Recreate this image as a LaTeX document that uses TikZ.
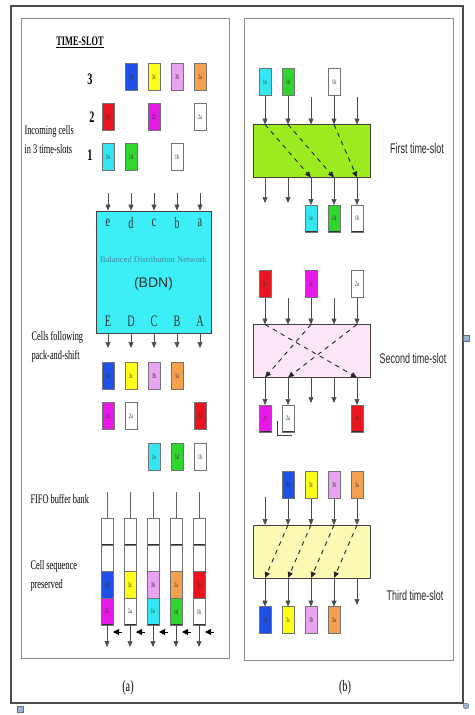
\documentclass[tikz,border=0pt]{standalone}
\usepackage{fontspec}
\setmainfont{Liberation Serif}
\setsansfont{Liberation Sans}
\newfontfamily\narrowserif[FakeStretch=0.64]{Liberation Serif}
\newfontfamily\narrowsans[FakeStretch=0.64]{Liberation Sans}
\usetikzlibrary{arrows.meta,positioning}

\definecolor{cellblue}{HTML}{1E4FE6}
\definecolor{cellyellow}{HTML}{FFFF1A}
\definecolor{cellviolet}{HTML}{E8A4F0}
\definecolor{cellorange}{HTML}{F5A04E}
\definecolor{cellred}{HTML}{E8141E}
\definecolor{cellmagenta}{HTML}{E619E6}
\definecolor{cellcyan}{HTML}{33E6F0}
\definecolor{cellgreen}{HTML}{2ED62E}
\definecolor{bdncyan}{HTML}{3CEEF5}
\definecolor{bdntext}{HTML}{3D8C9C}
\definecolor{slotgreen}{HTML}{9CEB1E}
\definecolor{slotpink}{HTML}{FCE6F6}
\definecolor{slotyellow}{HTML}{FAFAB4}
\definecolor{handle}{HTML}{9DB3D6}

\tikzset{
  every node/.style={
    font=\narrowserif\fontsize{13}{19}\selectfont
  },
  cell/.style={
    shape=rectangle,
    minimum width=12pt,
    minimum height=27pt,
    inner sep=0pt,
    outer sep=0pt,
    draw=black!55,
    fill=#1,
    text=black!80,
    font=\narrowserif\fontsize{7}{7}\selectfont,
    path picture={
      \draw[line width=1.4pt,black!80] (path picture bounding box.south west) -- (path picture bounding box.south east);
    }
  },
  cell/.default=white,
  buffer/.style={
    cell=#1,
    minimum height=26.75pt
  },
  buffer/.default=white,
  feed/.style={
    draw=black!70,
    line width=0.6pt,
    -{Triangle[length=6pt,width=5pt]}
  },
  shuffle/.style={
    draw=black!85,
    line width=0.9pt,
    dash pattern=on 4.5pt off 4.5pt,
    -{Triangle[length=6pt,width=5pt]}
  },
  push/.style={
    draw=black,
    line width=0.9pt,
    -{Triangle[length=6pt,width=6pt]}
  },
  network/.style={
    shape=rectangle,
    draw=black!75,
    line width=0.9pt,
    fill=#1,
    minimum width=117pt,
    minimum height=53pt,
    inner sep=0pt
  },
  bdnbox/.style={
    network=bdncyan,
    minimum width=115pt,
    minimum height=122pt
  },
  caption/.style={
    anchor=west,
    align=left
  },
  port/.style={
    font=\narrowserif\fontsize{16}{16}\selectfont,
    text=black!80
  },
  slotname/.style={
    font=\narrowsans\fontsize{14}{15}\selectfont,
    text=black!85
  },
  panel/.style={
    draw=black!45,
    line width=0.7pt
  },
  frame/.style={
    draw=black!70,
    line width=1.8pt
  },
  handle/.style={
    shape=rectangle,
    draw=handle!60!black,
    fill=handle,
    minimum size=6pt,
    inner sep=0pt
  }
}

\begin{document}
\begin{tikzpicture}[x=1pt,y=-1pt]
  \useasboundingbox (0,0) rectangle (474,715);
  \draw[frame] (11,6) rectangle (463,703);
  \draw[panel] (21,18) rectangle (229,658);
  \draw[panel] (244,18) rectangle (453,660);
  \node[handle] (hdl1) at (20,709) {};
  \node[handle] (hdl2) at (466,338) {};
  \node[handle,shape=circle] (hdl3) at (466,706) {};

  % (a) balanced distribution network
  \node[font=\narrowserif\bfseries\fontsize{13}{14}\selectfont] (timeslot) at (80,42) {\underline{TIME-SLOT}};
  \node[font=\narrowserif\bfseries\fontsize{16}{16}\selectfont] (row3) at (90,79) {3};
  \node[font=\narrowserif\bfseries\fontsize{16}{16}\selectfont] (row2) at (92,117) {2};
  \node[font=\narrowserif\bfseries\fontsize{16}{16}\selectfont] (row1) at (90,155) {1};
  \node[caption] (incoming) at (21,140) {Incoming cells\\in 3 time-slots};

  \node[cell=cellblue] (in3d) at (131,77) {3d};
  \node[cell=cellyellow] (in3c) at (154,77) {3c};
  \node[cell=cellviolet] (in3b) at (177,77) {3b};
  \node[cell=cellorange] (in3a) at (200,77) {3a};
  \node[cell=cellred] (in2e) at (108,117) {2e};
  \node[cell=cellmagenta] (in2c) at (154,117) {2c};
  \node[cell] (in2a) at (200,117) {2a};
  \node[cell=cellcyan] (in1e) at (108,157) {1e};
  \node[cell=cellgreen] (in1d) at (131,157) {1d};
  \node[cell] (in1b) at (177,157) {1b};

  \node[bdnbox] (bdn) at (153.5,272) {};
  \node[font=\fontsize{8.5}{9}\selectfont,text=bdntext] (bdnname) at (153.5,260) {Balanced Distribution Network};
  \node[font=\sffamily\fontsize{14}{15}\selectfont,text=black!80] (bdnshort) at (153.5,284) {(BDN)};
  \foreach \l/\L [count=\i] in {e/E,d/D,c/C,b/B,a/A} {
    \node[port] (tp\l) at ({85+23*\i},223) {\l};
    \node[port] (bt\L) at ({85+23*\i},321) {\L};
    \coordinate (bin\i) at ({85+23*\i},193);
    \coordinate (bout\i) at ({85+23*\i},348);
    \draw[feed] (bin\i) -- (bin\i |- bdn.north);
    \draw[feed] (bout\i |- bdn.south) -- (bout\i);
  }

  \node[caption] (packshift) at (28,347) {Cells following\\pack-and-shift};
  \node[cell=cellblue] (pk3d) at (108,376) {3d};
  \node[cell=cellyellow] (pk3c) at (131,376) {3c};
  \node[cell=cellviolet] (pk3b) at (154,376) {3b};
  \node[cell=cellorange] (pk3a) at (177,376) {3a};
  \node[cell=cellmagenta] (pk2c) at (108,416) {2c};
  \node[cell] (pk2a) at (131,416) {2a};
  \node[cell=cellred] (pk2e) at (200,416) {2e};
  \node[cell=cellcyan] (pk1e) at (154,457) {1e};
  \node[cell=cellgreen] (pk1d) at (177,457) {1d};
  \node[cell] (pk1b) at (200,457) {1b};

  \node[caption] (fifolabel) at (27,499) {FIFO buffer bank};
  \node[caption] (sequence) at (27,576) {Cell sequence\\preserved};
  \foreach \up/\uptxt/\low/\lowtxt [count=\i] in {cellblue/3d/cellmagenta/2c,cellyellow/3c/white/2a,cellviolet/3b/cellcyan/1e,cellorange/3a/cellgreen/1d,cellred/2e/white/1b} {
    \node[buffer] (fa\i) at ({84+23*\i},531.4) {};
    \node[buffer,below=0pt of fa\i] (fb\i) {};
    \node[buffer=\up,below=0pt of fb\i] (fc\i) {\uptxt};
    \node[buffer=\low,below=0pt of fc\i] (fd\i) {\lowtxt};
    \coordinate (ftop\i) at ({84+23*\i},492);
    \coordinate (fout\i) at ({84+23*\i},647);
    \coordinate (fpa\i) at ({99+23*\i},632);
    \coordinate (fpb\i) at ({90+23*\i},632);
    \draw[black!60,line width=0.6pt] (ftop\i) -- (fa\i);
    \draw[feed] (fd\i) -- (fout\i);
    \draw[push] (fpa\i) -- (fpb\i);
  }
  \node[font=\narrowserif\fontsize{16}{16}\selectfont] (capa) at (128,688) {(a)};

  % (b) the three time-slots
  \node[network=slotgreen] (net1) at (311.5,151) {};
  \node[network=slotpink] (net2) at (311.5,351) {};
  \node[network=slotyellow] (net3) at (311.5,551.5) {};
  \foreach \s/\t/\b in {1/124.5/177.5,2/324.5/377.5,3/525/578} {
    \foreach \i in {1,...,5} {
      \coordinate (top\s-\i) at ({242+23*\i},\t);
      \coordinate (bot\s-\i) at ({242+23*\i},\b);
    }
  }

  \node[cell=cellcyan] (a1e) at (265,82) {1e};
  \node[cell=cellgreen] (a1d) at (288,82) {1d};
  \node[cell] (a1b) at (334,82) {1b};
  \coordinate (a1x3) at (311,97);
  \coordinate (a1x5) at (357,97);
  \draw[feed] (a1e) -- (top1-1);
  \draw[feed] (a1d) -- (top1-2);
  \draw[feed] (a1x3) -- (top1-3);
  \draw[feed] (a1b) -- (top1-4);
  \draw[feed] (a1x5) -- (top1-5);
  \draw[shuffle] (top1-1) -- (bot1-3);
  \draw[shuffle] (top1-2) -- (bot1-4);
  \draw[shuffle] (top1-4) -- (bot1-5);
  \node[cell=cellcyan] (b1e) at (311,218.5) {1e};
  \node[cell=cellgreen] (b1d) at (334,218.5) {1d};
  \node[cell] (b1b) at (357,218.5) {1b};
  \coordinate (b1x1) at (265,203);
  \coordinate (b1x2) at (288,203);
  \draw[feed] (bot1-1) -- (b1x1);
  \draw[feed] (bot1-2) -- (b1x2);
  \draw[feed] (bot1-3) -- (b1e);
  \draw[feed] (bot1-4) -- (b1d);
  \draw[feed] (bot1-5) -- (b1b);
  \node[slotname] (first) at (417,148) {First time-slot};

  \node[cell=cellred] (c2e) at (265,284) {2e};
  \node[cell=cellmagenta] (c2c) at (311,284) {2c};
  \node[cell] (c2a) at (357,284) {2a};
  \coordinate (c2x2) at (288,298);
  \coordinate (c2x4) at (334,298);
  \draw[feed] (c2e) -- (top2-1);
  \draw[feed] (c2x2) -- (top2-2);
  \draw[feed] (c2c) -- (top2-3);
  \draw[feed] (c2x4) -- (top2-4);
  \draw[feed] (c2a) -- (top2-5);
  \draw[shuffle] (top2-1) -- (bot2-5);
  \draw[shuffle] (top2-3) -- (bot2-1);
  \draw[shuffle] (top2-5) -- (bot2-2);
  \node[cell=cellmagenta] (d2c) at (265,418.5) {2c};
  \node[cell] (d2a) at (288,418.5) {2a};
  \node[cell=cellred] (d2e) at (357,418.5) {2e};
  \coordinate (d2x3) at (311,403);
  \coordinate (d2x4) at (334,403);
  \draw[feed] (bot2-1) -- (d2c);
  \draw[feed] (bot2-2) -- (d2a);
  \draw[feed] (bot2-3) -- (d2x3);
  \draw[feed] (bot2-4) -- (d2x4);
  \draw[feed] (bot2-5) -- (d2e);
  \draw[black!75,line width=0.7pt] ([xshift=-5pt,yshift=-2pt]d2a.west) -- ([xshift=-5pt,yshift=-3pt]d2a.south west) -- ([xshift=-2pt,yshift=-3pt]d2a.south east);
  \node[slotname] (second) at (413,358) {Second time-slot};

  \node[cell=cellblue] (e3d) at (288,485) {3d};
  \node[cell=cellyellow] (e3c) at (311,485) {3c};
  \node[cell=cellviolet] (e3b) at (334,485) {3b};
  \node[cell=cellorange] (e3a) at (357,485) {3a};
  \coordinate (e3x1) at (265,497);
  \draw[feed] (e3x1) -- (top3-1);
  \draw[feed] (e3d) -- (top3-2);
  \draw[feed] (e3c) -- (top3-3);
  \draw[feed] (e3b) -- (top3-4);
  \draw[feed] (e3a) -- (top3-5);
  \draw[shuffle] (top3-2) -- (bot3-1);
  \draw[shuffle] (top3-3) -- (bot3-2);
  \draw[shuffle] (top3-4) -- (bot3-3);
  \draw[shuffle] (top3-5) -- (bot3-4);
  \node[cell=cellblue] (f3d) at (265,620) {3d};
  \node[cell=cellyellow] (f3c) at (288,620) {3c};
  \node[cell=cellviolet] (f3b) at (311,620) {3b};
  \node[cell=cellorange] (f3a) at (334,620) {3a};
  \coordinate (f3x5) at (357,605);
  \draw[feed] (bot3-1) -- (f3d);
  \draw[feed] (bot3-2) -- (f3c);
  \draw[feed] (bot3-3) -- (f3b);
  \draw[feed] (bot3-4) -- (f3a);
  \draw[feed] (bot3-5) -- (f3x5);
  \node[slotname] (third) at (415,595) {Third time-slot};
  \node[font=\narrowserif\fontsize{16}{16}\selectfont] (capb) at (345,688) {(b)};
\end{tikzpicture}
\end{document}
